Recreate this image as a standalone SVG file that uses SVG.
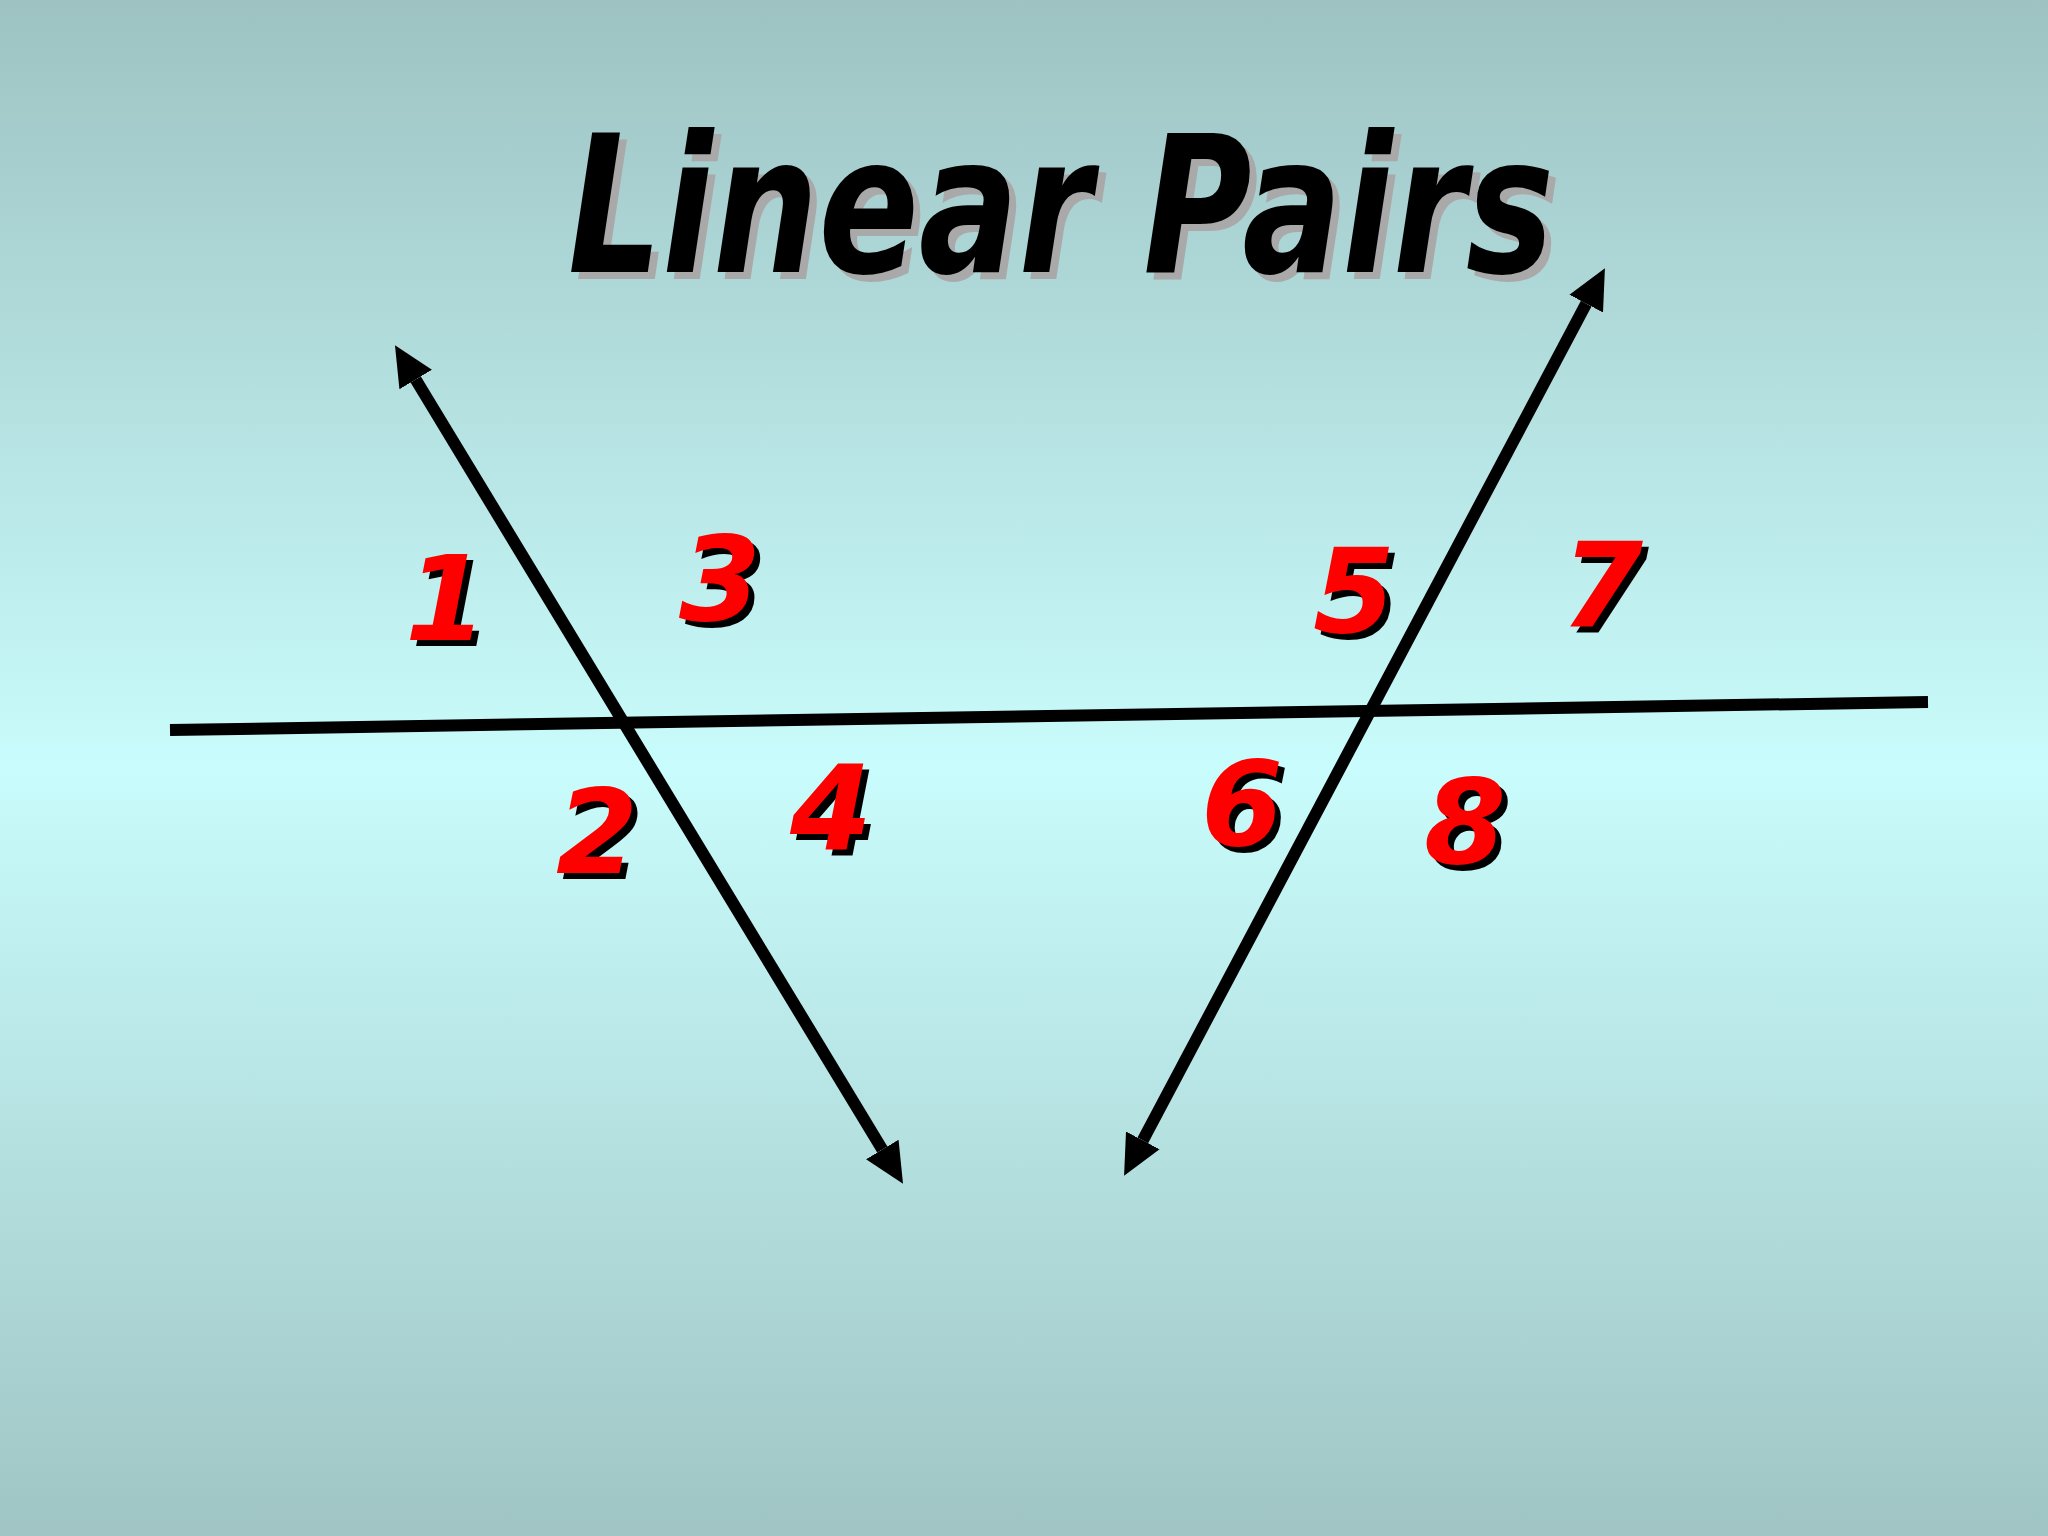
<svg xmlns="http://www.w3.org/2000/svg" width="2048" height="1536" viewBox="0 0 2048 1536">
  <defs>
    <linearGradient id="bg" x1="0" y1="0" x2="0" y2="1">
      <stop offset="0" stop-color="#9ec2c2"/>
      <stop offset="0.5" stop-color="#c9fcfc"/>
      <stop offset="1" stop-color="#a0c4c4"/>
    </linearGradient>
    <marker id="arrow" viewBox="0 0 40 40" refX="0" refY="20" markerWidth="40" markerHeight="40" markerUnits="userSpaceOnUse" orient="auto-start-reverse">
      <path d="M0,1 L40,20 L0,39 Z" fill="#000"/>
    </marker>
    <style>
      .title { font-family: "DejaVu Sans", "Liberation Sans", sans-serif; font-weight: bold; font-style: italic; font-size: 190px; text-anchor: middle; }
      .title-shadow { fill: #a9a9a9; }
      .title-main { fill: #000; }
      .num { font-family: "DejaVu Sans", "Liberation Sans", sans-serif; font-weight: bold; font-style: italic; font-size: 118px; text-anchor: middle; }
      .num-shadow { fill: #000; }
      .num-main { fill: #ff0000; }
      .ln { stroke: #000; stroke-width: 12; fill: none; }
      .ray { marker-start: url(#arrow); marker-end: url(#arrow); }
    </style>
  </defs>
  <rect width="2048" height="1536" fill="url(#bg)"/>

  <g id="title">
    <text class="title title-shadow" x="1068" y="279" textLength="986" lengthAdjust="spacingAndGlyphs">Linear Pairs</text>
    <text class="title title-main" x="1061" y="272" textLength="986" lengthAdjust="spacingAndGlyphs">Linear Pairs</text>
  </g>

  <g id="connectors">
    <line id="transversal-h" class="ln" x1="170" y1="730" x2="1928" y2="702"/>
    <line id="line-left" class="ln ray" x1="415.7" y1="379.5" x2="882.3" y2="1149.5"/>
    <line id="line-right" class="ln ray" x1="1586.2" y1="303.6" x2="1142.8" y2="1140.4"/>
  </g>

  <g id="angle-1">
    <text class="num num-shadow" x="452" y="646">1</text>
    <text class="num num-main" x="446" y="640">1</text>
  </g>
  <g id="angle-3">
    <text class="num num-shadow" x="726" y="626">3</text>
    <text class="num num-main" x="720" y="620">3</text>
  </g>
  <g id="angle-2">
    <text class="num num-shadow" x="603" y="879">2</text>
    <text class="num num-main" x="597" y="873">2</text>
  </g>
  <g id="angle-4">
    <text class="num num-shadow" x="837" y="856">4</text>
    <text class="num num-main" x="831" y="850">4</text>
  </g>
  <g id="angle-5">
    <text class="num num-shadow" x="1360" y="638">5</text>
    <text class="num num-main" x="1354" y="632">5</text>
  </g>
  <g id="angle-7">
    <text class="num num-shadow" x="1608" y="633">7</text>
    <text class="num num-main" x="1602" y="627">7</text>
  </g>
  <g id="angle-6">
    <text class="num num-shadow" x="1248" y="851">6</text>
    <text class="num num-main" x="1242" y="845">6</text>
  </g>
  <g id="angle-8">
    <text class="num num-shadow" x="1471" y="869">8</text>
    <text class="num num-main" x="1465" y="863">8</text>
  </g>
</svg>
